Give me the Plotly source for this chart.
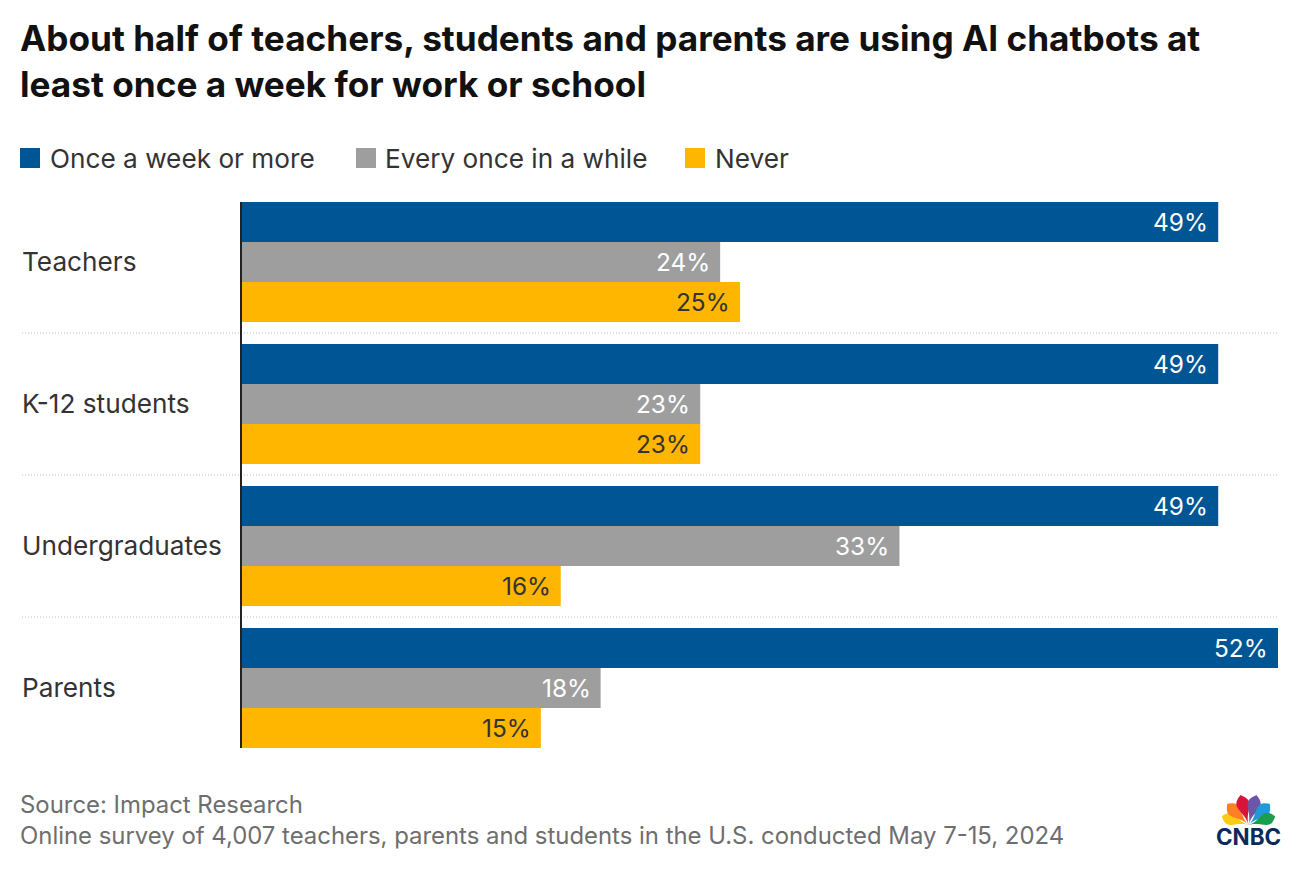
import math
import plotly.graph_objects as go

categories = ["Teachers", "K-12 students", "Undergraduates", "Parents"]
weekly = [49, 49, 49, 52]
sometimes = [24, 23, 33, 18]
never = [25, 23, 16, 15]
series = [("Once a week or more", weekly, "#005594", "white"),
          ("Every once in a while", sometimes, "#9e9e9e", "white"),
          ("Never", never, "#ffb600", "#333333")]
FONT = "Inter, 'Open Sans', sans-serif"
W, H = 1302, 874
L, R, T, B = 242, 1278, 191, 759

def px(x):
    return (x - L) / (R - L)
def py(y):
    return 1 - (y - T) / (B - T)

fig = go.Figure()
ann = []
for i, (name, vals, color, tc) in enumerate(series):
    fig.add_bar(y=categories, x=vals, name=name, orientation="h",
                marker=dict(color=color, line_width=0), showlegend=False, hoverinfo="skip")
    for c, v in zip(categories, vals):
        ann.append(dict(xref="x", yref="y", x=v, y=c, xshift=-8, yshift=(1 - i) * 40,
                        text=f"{v}%", showarrow=False, xanchor="right", yanchor="middle",
                        font=dict(size=24.4, color=tc, family=FONT)))

shapes = []
for y_px in (333, 475, 617):
    shapes.append(dict(type="line", xref="paper", yref="paper", x0=px(22), x1=1, y0=py(y_px), y1=py(y_px),
                       line=dict(color="#bdbdbd", width=1, dash="1px,2px")))
shapes.append(dict(type="line", xref="paper", yref="paper", x0=px(241), x1=px(241), y0=py(202), y1=py(748),
                   line=dict(color="#222222", width=2)))

def text(x, y, s, size, color="#333333", bold=False, family=FONT):
    ann.append(dict(xref="paper", yref="paper", x=px(x), y=py(y),
                    text=f"<b>{s}</b>" if bold else s, showarrow=False, xanchor="left",
                    yanchor="middle", align="left", xshift=-2,
                    font=dict(size=size, color=color, family=family)))
text(20, 38, "About half of teachers, students and parents are using AI chatbots at", 35.2, "#111111", True)
text(20, 84, "least once a week for work or school", 35.2, "#111111", True)
for c, y in zip(categories, (261, 403, 545, 687)):
    text(22, y, c, 26.2)
text(20, 804, "Source: Impact Research", 23.9, "#6e6e6e")
text(20, 835, "Online survey of 4,007 teachers, parents and students in the U.S. conducted May 7-15, 2024", 23.9, "#6e6e6e")
for s, x in (("Once a week or more", 50), ("Every once in a while", 385), ("Never", 715)):
    text(x, 158, s, 26.2)
text(1216, 836, "CNBC", 22.4, "#0b2a5b", True)

for x, col in ((20, "#005594"), (356, "#9e9e9e"), (685, "#ffb600")):
    shapes.append(dict(type="rect", xref="paper", yref="paper", x0=px(x), x1=px(x + 20),
                       y0=py(168), y1=py(148), fillcolor=col, line_width=0))

# CNBC peacock feathers
def petal(angle, length, width, color):
    bx, by = 1248.5, 825
    a = math.radians(angle)
    ux, uy = math.sin(a), -math.cos(a)
    vx, vy = -uy, ux
    pts = []
    for k in range(25):
        t = k / 24
        w = width * math.sin(math.pi * t ** 2)
        pts.append((t, w))
    path = []
    for t, w in pts:
        path.append((bx + ux * length * t + vx * w, by + uy * length * t + vy * w))
    for t, w in reversed(pts):
        path.append((bx + ux * length * t - vx * w, by + uy * length * t - vy * w))
    d = "M" + " L".join(f"{px(x):.5f},{py(y):.5f}" for x, y in path) + " Z"
    return dict(type="path", xref="paper", yref="paper", path=d, fillcolor=color, line_width=0)

for angle, length, width, col in ((-72, 28, 6, "#fccc12"), (-45, 30, 6.5, "#ff7f27"), (-15, 31, 6.5, "#d9143a"),
                                  (15, 31, 6.5, "#6e55a5"), (45, 30, 6.5, "#1f9ad6"), (72, 28, 6, "#1a9e4b")):
    shapes.append(petal(angle, length, width, col))

fig.update_layout(width=W, height=H, autosize=False, paper_bgcolor="white", plot_bgcolor="white",
                  margin=dict(l=L, r=W - R, t=T, b=H - B), barmode="group", bargap=22 / 142, bargroupgap=0,
                  shapes=shapes, annotations=ann,
                  xaxis=dict(range=[0, 52], visible=False),
                  yaxis=dict(autorange="reversed", visible=False))
fig.write_html("out.html", config={"displayModeBar": False}, post_script="document.body.style.margin='0';")
